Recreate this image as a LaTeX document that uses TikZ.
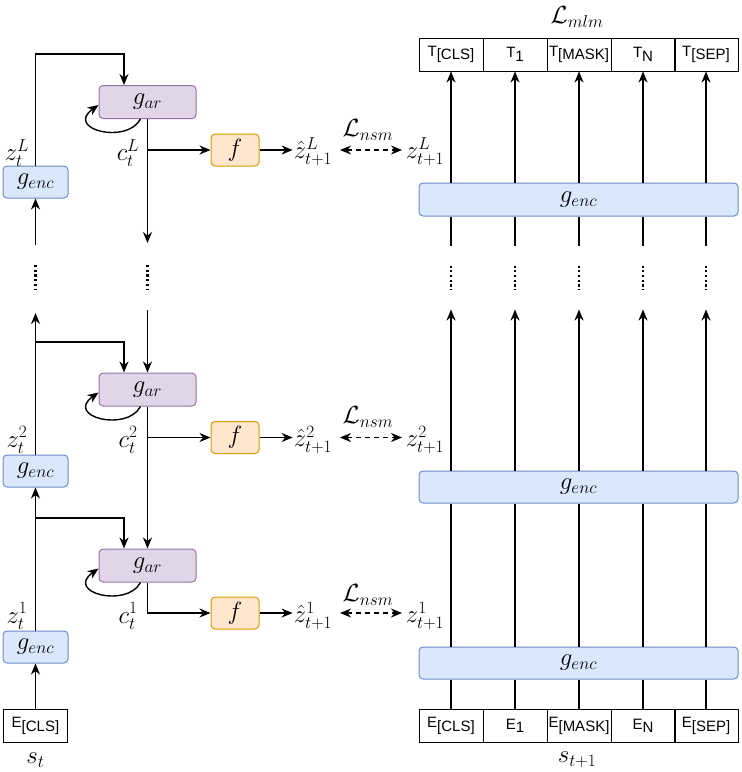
\documentclass[tikz,border=0pt]{standalone}
\usepackage{fontspec}
\newfontfamily\arialf{Liberation Sans}
\usetikzlibrary{arrows.meta,calc}
\definecolor{encF}{HTML}{DAE8FC}
\definecolor{encD}{HTML}{6C8EBF}
\definecolor{arF}{HTML}{E1D5E7}
\definecolor{arD}{HTML}{9673A6}
\definecolor{fF}{HTML}{FFE6CC}
\definecolor{fD}{HTML}{D79B00}
\newcommand{\tok}[2]{{\arialf\fontsize{15}{17}\selectfont #1\raisebox{-3.5pt}{#2}}}
\begin{document}
\begin{tikzpicture}[x=1pt,y=-1pt,
  mathf/.style={font=\fontsize{24}{28}\selectfont},
  encbox/.style={draw=encD,fill=encF,rounded corners=4pt,line width=1pt,inner sep=0pt,mathf},
  arbox/.style={draw=arD,fill=arF,rounded corners=4pt,line width=1pt,inner sep=0pt,minimum width=97pt,minimum height=33pt,mathf},
  fbox/.style={draw=fD,fill=fF,rounded corners=4pt,line width=1pt,inner sep=0pt,minimum width=48pt,minimum height=32pt,mathf},
  tokbox/.style={draw,line width=1pt,inner sep=0pt,minimum width=64pt,minimum height=33pt},
  lbl/.style={inner sep=1pt,mathf},
  conn/.style={line width=1.4pt},
  arr/.style={conn,-{Stealth[length=11pt,width=9pt,inset=3.5pt]}},
  darr/.style={conn,dash pattern=on 5pt off 4pt,{Stealth[length=11pt,width=9pt,inset=3.5pt]}-{Stealth[length=11pt,width=9pt,inset=3.5pt]}},
  vdots/.style={line width=2.2pt,dash pattern=on 2.2pt off 2.5pt},
]
\useasboundingbox (0,0) rectangle (742,772);

% ---------- left column ----------
\node[tokbox] (EL) at (35.5,726) {\tok{E}{[CLS]}};
\node[lbl] (st) at (35.5,760) {$s_t$};
\node[encbox,minimum width=65pt,minimum height=32pt] (gl1) at (35.5,647) {$g_{enc}$};
\node[encbox,minimum width=65pt,minimum height=32pt] (gl2) at (35.5,471) {$g_{enc}$};
\node[encbox,minimum width=65pt,minimum height=32pt] (glL) at (35.5,182) {$g_{enc}$};

\node[arbox] (ar1) at (147.5,565.5) {$g_{ar}$};
\node[arbox] (ar2) at (147.5,389.5) {$g_{ar}$};
\node[arbox] (arL) at (147.5,102) {$g_{ar}$};

\node[fbox] (f1) at (235,613) {$f$};
\node[fbox] (f2) at (235,437.5) {$f$};
\node[fbox] (fL) at (235,150) {$f$};

\coordinate (lup2) at (35.5,313);
\coordinate (lupL) at (35.5,245);
\coordinate (cdownL) at (147.5,243);
\coordinate (cup2) at (147.5,310);

% dots
\draw[vdots] (35.5,265) -- (35.5,289);
\draw[vdots] (147.5,265) -- (147.5,289);

% left connectors
\draw[arr] (EL.north) -- (gl1.south);
\draw[arr] (gl1.north) -- (gl2.south);
\draw[arr] (35.5,518) -- (124,518) -- (ar1.north -| 124,0);
\draw[arr] (gl2.north) -- (lup2);
\draw[arr] (35.5,342) -- (124,342) -- (ar2.north -| 124,0);
\draw[arr] (lupL) -- (glL.south);
\draw[arr] (glL.north) -- (35.5,54) -- (124,54) -- (arL.north -| 124,0);

\draw[arr] (arL.south) -- (cdownL);
\draw[arr] (arL.south |- fL.west) -- (fL.west);
\draw[arr] (cup2) -- (ar2.north);
\draw[arr] (ar2.south) -- (ar1.north);
\draw[arr] (ar2.south |- f2.west) -- (f2.west);
\draw[arr] (ar1.south) -- (ar1.south |- f1.west) -- (f1.west);

% self loops
\foreach \n in {ar1,ar2,arL}{
  \draw[arr] ($(\n.south)+(-7,0)$) .. controls +(-14,26) and +(-34,24) .. ($(\n.west)+(0,3)$);
}

% labels
\node[lbl] at (17,153) {$z_t^L$};
\node[lbl] at (128,153) {$c_t^L$};
\node[lbl] at (17,440) {$z_t^2$};
\node[lbl] at (128,440) {$c_t^2$};
\node[lbl] at (17,616) {$z_t^1$};
\node[lbl] at (128,616) {$c_t^1$};

% predictions
\node[lbl] (hzL) at (313,152) {$\hat{z}_{t+1}^L$};
\node[lbl] (zL) at (425,152) {$z_{t+1}^L$};
\node[lbl] at (368,130) {$\mathcal{L}_{nsm}$};
\draw[arr] (fL.east) -- (fL.east -| hzL.west);
\draw[darr] (340,150) -- (402,150);

\node[lbl] (hz2) at (313,440) {$\hat{z}_{t+1}^2$};
\node[lbl] (z2) at (425,440) {$z_{t+1}^2$};
\node[lbl] at (368,417) {$\mathcal{L}_{nsm}$};
\draw[arr] (f2.east) -- (f2.east -| hz2.west);
\draw[darr] (340,437.5) -- (402,437.5);

\node[lbl] (hz1) at (313,616) {$\hat{z}_{t+1}^1$};
\node[lbl] (z1) at (425,616) {$z_{t+1}^1$};
\node[lbl] at (368,595) {$\mathcal{L}_{nsm}$};
\draw[arr] (f1.east) -- (f1.east -| hz1.west);
\draw[darr] (340,613) -- (402,613);

% ---------- right column ----------
\node[lbl] at (577,17) {$\mathcal{L}_{mlm}$};
\node[lbl] at (577,760) {$s_{t+1}$};
\node[encbox,minimum width=319pt,minimum height=33pt] (gr3) at (578.5,199.5) {$g_{enc}$};
\node[encbox,minimum width=319pt,minimum height=32pt] (gr2) at (578.5,487) {$g_{enc}$};
\node[encbox,minimum width=319pt,minimum height=32pt] (gr1) at (578.5,663) {$g_{enc}$};

\foreach \i/\x/\a/\b in {1/451/T/[CLS],2/515/T/1,3/579/T/[MASK],4/643/T/N,5/706/T/[SEP]}{
  \node[tokbox] (T\i) at (\x,54.5) {\tok{\a}{\b}};
}
\foreach \i/\x/\a/\b in {1/451/E/[CLS],2/515/E/1,3/579/E/[MASK],4/643/E/N,5/706/E/[SEP]}{
  \node[tokbox] (E\i) at (\x,726) {\tok{\a}{\b}};
}
\foreach \i in {1,...,5}{
  \draw[conn] (E\i.north) -- (E\i.north |- gr1.south);
  \draw[conn] (E\i.north |- gr1.north) -- (E\i.north |- gr2.south);
  \coordinate (up\i) at ($(E\i.north |- gr2.north)+(0,-161)$);
  \draw[arr] (E\i.north |- gr2.north) -- (up\i);
  \draw[vdots] ($(E\i.north |- gr3.south)+(0,49)$) -- ($(E\i.north |- gr3.south)+(0,73)$);
  \coordinate (dn\i) at ($(E\i.north |- gr3.south)+(0,29)$);
  \draw[conn] (E\i.north |- gr3.south) -- (dn\i);
  \draw[arr] (E\i.north |- gr3.north) -- (T\i.south);
}
\end{tikzpicture}
\end{document}
